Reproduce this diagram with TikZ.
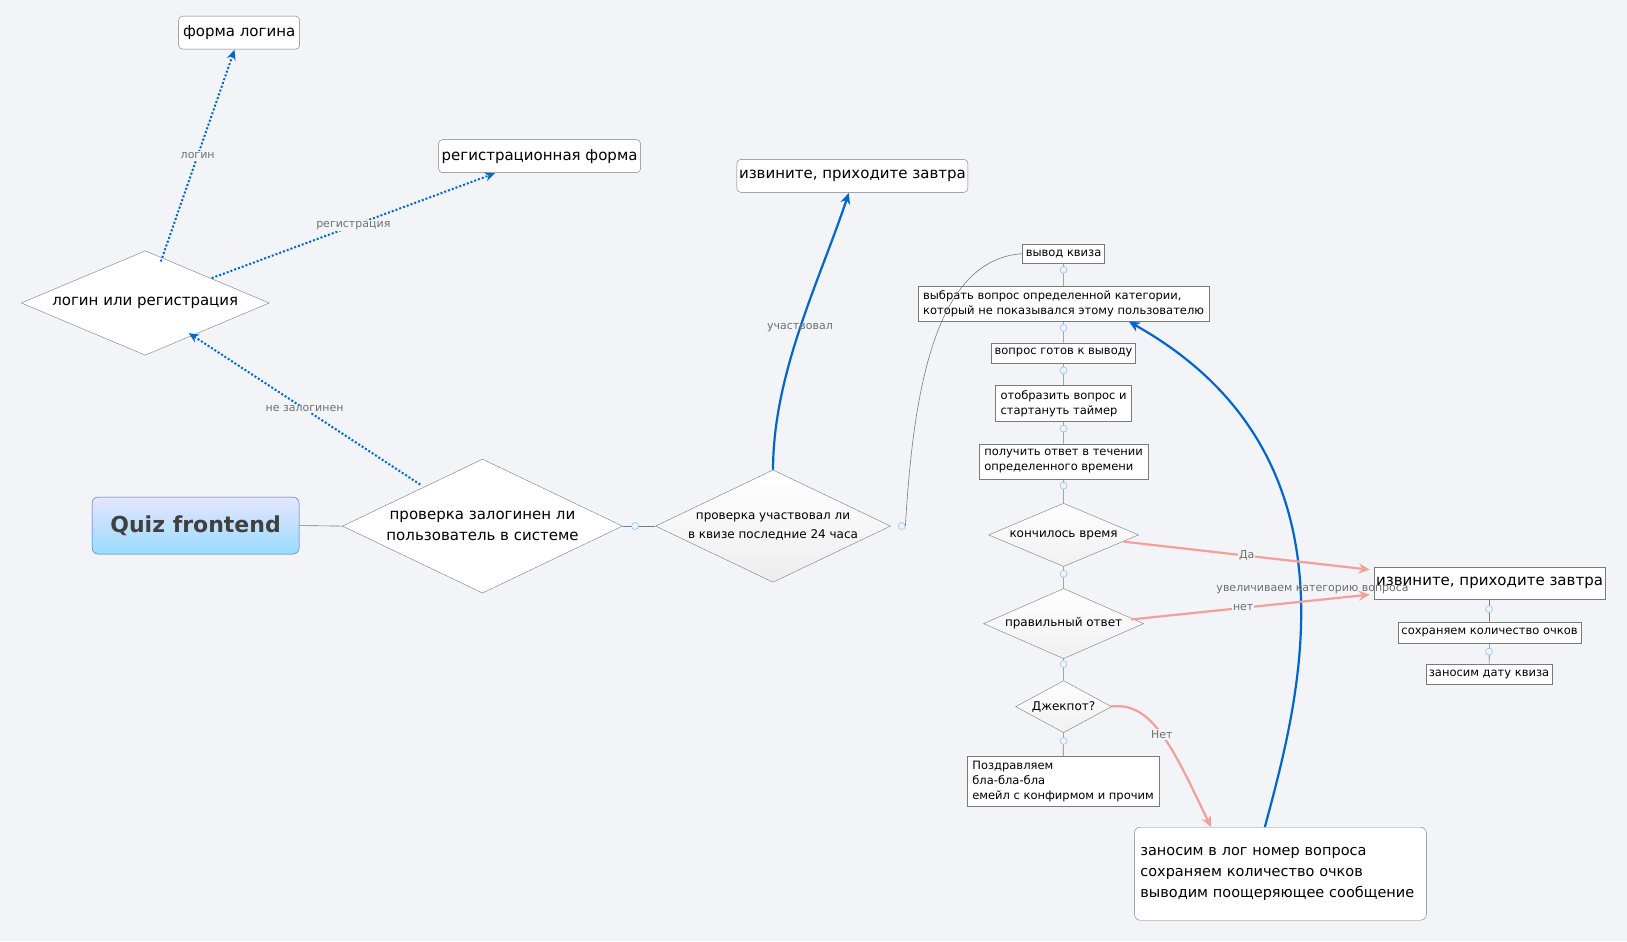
\documentclass[tikz,border=0pt]{standalone}
\usepackage{fontspec}
\setmainfont{DejaVu Sans}
\usetikzlibrary{shapes.geometric,arrows.meta}
\definecolor{bg}{HTML}{F2F4F7}
\definecolor{lnk}{HTML}{0066CC}
\definecolor{pnk}{HTML}{F4A09A}
\definecolor{edge}{HTML}{7A7A7A}
\definecolor{lbl}{HTML}{707070}
\begin{document}
\begin{tikzpicture}[x=1.0376pt,y=-1.0376pt,
  rbox/.style={draw=edge,fill=white,rounded corners=4pt,font=\fontsize{15}{18}\selectfont,inner sep=0pt},
  sbox/.style={draw=edge,fill=white,font=\fontsize{11.5}{15}\selectfont,align=left,inner sep=0pt},
  dia/.style={draw=edge,diamond,inner sep=0pt,aspect=2},
  lab/.style={font=\fontsize{11}{13}\selectfont,text=lbl,fill=bg,inner sep=1pt},
  dotarr/.style={lnk,line width=2pt,dotted,-{Stealth[length=10pt,width=9pt]}},
  bluearr/.style={lnk,line width=2.2pt,-{Stealth[length=11pt,width=10pt]}},
  pinkarr/.style={pnk,line width=2.2pt,-{Stealth[length=11pt,width=10pt,open]}},
  tie/.style={edge,line width=0.6pt},
  knob/.style={circle,draw=lnk!50,fill=lnk!8,minimum size=7pt,inner sep=0pt}]
\fill[bg] (0,0) rectangle (1568,907);
\useasboundingbox (0,0) rectangle (1568,907);
% left part
\node[rbox,minimum width=121,minimum height=33] (fl) at (230.5,31.5) {форма логина};
\node[rbox,minimum width=202,minimum height=33] (rf) at (520,150.5) {регистрационная форма};
\node[rbox,minimum width=231,minimum height=33] (iz1) at (821.5,169.5) {извините, приходите завтра};
\node[dia,fill=white,minimum width=248,minimum height=90,font=\fontsize{15}{18}\selectfont] (lr) at (140,292) {логин или регистрация};
\node[draw=lnk!60!gray,rounded corners=6pt,top color=blue!10!white,bottom color=blue!35!cyan!40!white,minimum width=207,minimum height=57,font=\fontsize{22}{26}\bfseries\selectfont,text=black!75] (qf) at (188.5,506.5) {Quiz frontend};
\node[dia,fill=white,minimum width=280,minimum height=134,align=center,font=\fontsize{15}{21}\selectfont] (d1) at (465,507) {проверка залогинен ли\\пользователь в системе};
\node[dia,top color=white,bottom color=black!7,minimum width=235,minimum height=108,align=center,font=\fontsize{12}{19}\selectfont] (d2) at (745,507) {проверка участвовал ли\\в квизе последние 24 часа};
\draw[tie] (qf.east) -- (d1.west);
\draw[tie] (d1.east) -- (d2.west);
\node[knob] (k1) at (612,507) {};
\node[knob] (k2) at (869,507) {};
% right column
\node[sbox,minimum width=82,minimum height=19,align=center] (vk) at (1025,244.5) {вывод квиза};
\node[sbox,minimum width=284,minimum height=35,inner xsep=5pt] (vv) at (1025,292.5) {выбрать вопрос определенной категории,\\который не показывался этому пользователю};
\node[sbox,minimum width=144,minimum height=20,align=center] (vg) at (1025,340) {вопрос готов к выводу};
\node[sbox,minimum width=134,minimum height=36,inner xsep=5pt] (ov) at (1025,389) {отобразить вопрос и\\стартануть таймер};
\node[sbox,minimum width=165,minimum height=35,inner xsep=5pt] (po) at (1025,444.5) {получить ответ в течении\\определенного времени};
\node[dia,top color=white,bottom color=black!6,minimum width=150,minimum height=63,font=\fontsize{12}{15}\selectfont] (kv) at (1025,515.5) {кончилось время};
\node[dia,top color=white,bottom color=black!6,minimum width=160,minimum height=66,font=\fontsize{12}{15}\selectfont] (pr) at (1025,601) {правильный ответ};
\node[dia,top color=white,bottom color=black!6,minimum width=96,minimum height=52,font=\fontsize{12}{15}\selectfont] (dj) at (1025,681) {Джекпот?};
\node[sbox,minimum width=187,minimum height=50,inner xsep=5pt] (pz) at (1024.5,753) {Поздравляем\\бла-бла-бла\\емейл с конфирмом и прочим};
\draw[tie] (vk) -- (vv) -- (vg) -- (ov) -- (po) -- (kv) -- (pr) -- (dj) -- (pz);
\foreach \y in {260,316,357,413,468,553,640,714} \node[knob] at (1025,\y) {};
\node[sbox,minimum width=231,minimum height=32,font=\fontsize{15}{18}\selectfont,align=center] (iz2) at (1435.5,562) {извините, приходите завтра};
\node[sbox,minimum width=183,minimum height=21,align=center] (so) at (1435.5,609.5) {сохраняем количество очков};
\node[sbox,minimum width=126,minimum height=20,align=center] (zd) at (1435,650) {заносим дату квиза};
\draw[tie] (iz2) -- (so) -- (zd);
\node[knob] at (1435,587) {};
\node[knob] at (1435,628) {};
\node[draw=edge,fill=white,rounded corners=6pt,minimum width=290,minimum height=93,font=\fontsize{14.5}{21}\selectfont,align=left,anchor=north west,inner xsep=6pt,inner ysep=4pt,text width=280] (bb) at (1093,797) {заносим в лог номер вопроса\\сохраняем количество очков\\выводим поощеряющее сообщение};
% connectors
\draw[tie] (k2.east) .. controls (880,380) and (900,250) .. (vk.west);
\draw[dotarr] (405,467) -- (182,321) node[lab,pos=0.5] {не залогинен};
\draw[dotarr] (155,252) -- (226,48) node[lab,pos=0.5] {логин};
\draw[dotarr] (204,268) -- (477,167) node[lab,pos=0.5] {регистрация};
\draw[bluearr] (d2.north) .. controls (745,360) and (790,270) .. (818,186) node[lab,pos=0.5,fill=none] {участвовал};
\draw[bluearr] (1219,797) .. controls (1250,680) and (1320,440) .. (1088,310);
\draw[pinkarr] (1083,522) -- (1320,549) node[lab,pos=0.5] {Да};
\draw[pinkarr] (1090,597) -- (1320,573) node[lab,pos=0.47] {нет};
\node[font=\fontsize{11}{13}\selectfont,text=lbl] (uv) at (1265,568) {увеличиваем категорию вопроса};
\draw[pinkarr] (1070,681) .. controls (1110,675) and (1130,720) .. (1167,797) node[lab,pos=0.5] {Нет};
\end{tikzpicture}
\end{document}
